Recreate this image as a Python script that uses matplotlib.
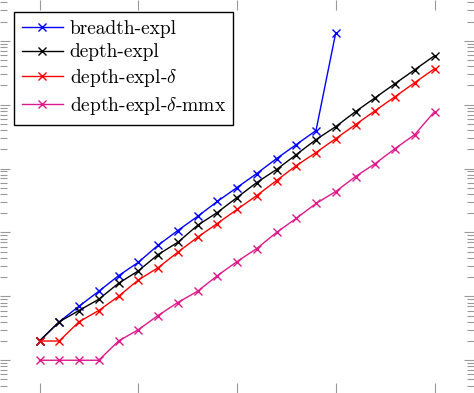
import matplotlib
matplotlib.use("Agg")
import matplotlib.pyplot as plt
from matplotlib.ticker import LogLocator, MultipleLocator, NullFormatter

plt.rcParams['font.family'] = 'cmr10'
plt.rcParams['mathtext.fontset'] = 'cm'
plt.rcParams['axes.formatter.use_mathtext'] = True

# runtimes (log scale)
breadth_expl = [0.02, 0.04, 0.07, 0.12, 0.21, 0.34, 0.63, 1.07, 1.78, 3.05,
                5.05, 8.35, 14.3, 23.7, 39.3, 1334]
depth_expl = [0.02, 0.04, 0.06, 0.09, 0.16, 0.25, 0.45, 0.70, 1.29, 2.05,
              3.52, 6.04, 9.65, 16.5, 28.4, 45.3, 77.8, 128.6, 213, 352, 583]
depth_delta = [0.02, 0.02, 0.04, 0.06, 0.10, 0.18, 0.28, 0.49, 0.84, 1.38,
               2.29, 3.78, 6.49, 11.1, 17.8, 29.4, 48.7, 80.6, 133, 221, 365]
depth_delta_mmx = [0.01, 0.01, 0.01, 0.01, 0.02, 0.03, 0.05, 0.08, 0.12, 0.21,
                   0.35, 0.56, 1.00, 1.66, 2.84, 4.37, 7.50, 11.97, 20.5, 34.0, 77.8]
labels = ['breadth-expl', 'depth-expl', r'depth-expl-$\delta$', r'depth-expl-$\delta$-mmx']
colors = ['#0000ff', 'black', '#ff0000', '#dc1a8c']

fig = plt.figure(figsize=(4.74, 3.93), dpi=100)
ax = fig.add_axes([0, 0, 1, 1])

series = [breadth_expl, depth_expl, depth_delta, depth_delta_mmx]
for ys, lab, c in zip(series, labels, colors):
    ax.plot(range(len(ys)), ys, color=c, marker='x', markersize=6,
            markeredgewidth=1.0, linewidth=1.0, label=lab)

ax.set_yscale('log')
ax.set_xlim(-2, 22)
ax.set_ylim(10 ** -2.5125, 10 ** 3.6375)
ax.xaxis.set_major_locator(MultipleLocator(5))
ax.yaxis.set_major_locator(LogLocator(base=10))
ax.yaxis.set_minor_locator(LogLocator(base=10, subs=range(2, 10)))
ax.yaxis.set_minor_formatter(NullFormatter())
ax.tick_params(which='both', direction='in', top=True, right=True,
               labelbottom=False, labelleft=False, color='#999999', width=0.8)
ax.tick_params(which='major', length=7)
ax.tick_params(which='minor', length=5)
for s in ax.spines.values():
    s.set_visible(False)

leg = ax.legend(loc='upper left', bbox_to_anchor=(14 / 474, 1 - 12 / 393),
                borderaxespad=0, fancybox=False, framealpha=1, edgecolor='black',
                fontsize=14, handlelength=2.1, handletextpad=0.36,
                labelspacing=0.3, borderpad=0.4)
leg.get_frame().set_linewidth(1.0)

fig.savefig('out.png', dpi=100)
